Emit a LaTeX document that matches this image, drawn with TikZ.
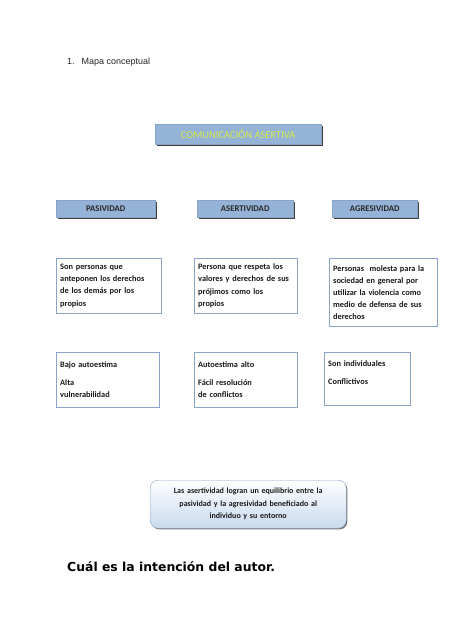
\documentclass[tikz,border=0pt]{standalone}
\usepackage{fontspec}
\setmainfont{Carlito}
\newfontfamily\arialfont{Liberation Sans}
\newfontfamily\dejavufont{DejaVu Sans}
\usetikzlibrary{shadows, positioning}

\definecolor{boxblue}{HTML}{95B3D7}
\definecolor{edgeblue}{HTML}{8AA4C8}
\definecolor{titletext}{HTML}{D4EA4A}
\definecolor{paleblue}{HTML}{C9D9EE}

\begin{document}
\begin{tikzpicture}[
  x=1pt, y=-1pt,
  head/.style={rectangle, draw=edgeblue, fill=boxblue, inner sep=0pt, anchor=north west, align=center,
    font=\fontsize{8.7}{10}\selectfont\bfseries, text=black!85,
    drop shadow={shadow xshift=1.3pt, shadow yshift=-1.3pt, fill=black!75, opacity=1}},
  info/.style={rectangle, draw=edgeblue, fill=white, anchor=north west, align=left, inner xsep=4pt, inner ysep=3pt,
    font=\fontsize{8.3}{12.4}\selectfont\bfseries, text=black!90,
    drop shadow={shadow xshift=1.2pt, shadow yshift=-1.2pt, fill=black!55, opacity=1}},
]
\useasboundingbox (0,0) rectangle (474,632);

% Heading
\node[anchor=west, inner sep=0pt, font=\arialfont\fontsize{9}{11}\selectfont, text=black!85] (numero) at (67,62) {1.\hspace{7pt}Mapa conceptual};

% Main concept
\node[head, minimum width=166pt, minimum height=20pt, font=\fontsize{10.5}{12}\selectfont, text=titletext] (tema) at (155,124) {COMUNICACIÓN ASERTIVA};

% Row 1: categories
\node[head, minimum width=99pt, minimum height=17pt] (pasiv) at (56,200) {PASIVIDAD};
\node[head, minimum width=96pt, minimum height=17pt] (aserv) at (197,200) {ASERTIVIDAD};
\node[head, minimum width=85pt, minimum height=17pt] (agres) at (332,200) {AGRESIVIDAD};

% Row 2: descriptions
\node[info, text width=97pt, minimum height=55pt] (descp) at (56,258) {Son personas que\\anteponen los derechos\\de los demás por los\\propios};
\node[info, text width=95pt, minimum height=55pt] (descs) at (194,258) {Persona que respeta los\\valores y derechos de sus\\prójimos como los\\propios};
\node[info, text width=100pt, minimum height=68pt, font=\fontsize{8.3}{12}\selectfont\bfseries] (desca) at (329,258) {Personas\ \ molesta para la\\sociedad en general por\\utilizar la violencia como\\medio de defensa de sus\\derechos};

% Row 3: traits
\node[info, text width=95pt, minimum height=55pt] (rasgp) at (56,352) {Bajo autoestima\\[6pt]Alta\\vulnerabilidad};
\node[info, text width=95pt, minimum height=55pt] (rasgs) at (194,352) {Autoestima alto\\[6pt]Fácil resolución\\de conflictos};
\node[info, text width=78pt, minimum height=53pt] (rasga) at (324,352) {Son individuales\\[6pt]Conflictivos\\\mbox{}};

% Conclusion
\node[info, rounded corners=8pt, align=center, text width=188pt, minimum height=48pt, inner ysep=4pt,
  top color=white, bottom color=paleblue, font=\fontsize{8}{12.6}\selectfont\bfseries] (concl) at (150,480)
  {Las asertividad logran un equilibrio entre la\\pasividad y la agresividad beneficiado al\\individuo y su entorno};

% Question
\node[anchor=west, inner sep=0pt, font=\dejavufont\bfseries\fontsize{12.4}{14}\selectfont] (pregunta) at (67,567) {Cuál es la intención del autor.};

\end{tikzpicture}
\end{document}
